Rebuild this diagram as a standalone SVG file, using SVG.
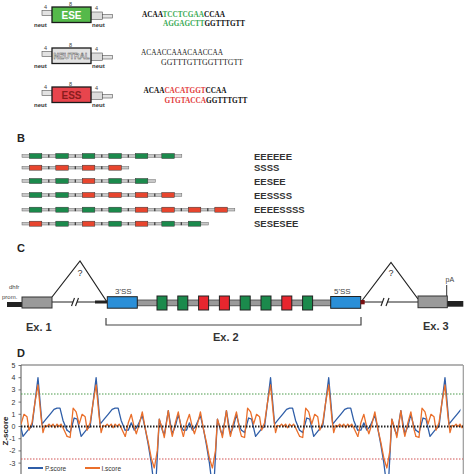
<svg xmlns="http://www.w3.org/2000/svg" width="474" height="474" viewBox="0 0 474 474">
<style>
text{font-family:"Liberation Sans",Arial,sans-serif}
.seq{font-family:"Liberation Serif","Times New Roman",serif;font-weight:bold;font-size:7.4px;fill:#111}
.seqn{font-family:"Liberation Serif","Times New Roman",serif;font-size:7.4px;fill:#222}
.gt{fill:#3aaa55}
.rt{fill:#e23b3b}
.num{font-size:5.5px;fill:#444;text-anchor:middle}
.neut{font-size:6px;font-weight:bold;fill:#333}
.lbl{font-size:11px;font-weight:bold;fill:#222}
.blab{font-size:9.5px;font-weight:bold;fill:#333}
.bar{fill:#e3e3e3;stroke:#555;stroke-width:.6}
.side{fill:#dcdcdc;stroke:#555;stroke-width:.6}
.bb{fill:#c8c8c8;stroke:#666;stroke-width:.5}
.bg{fill:#1b8a4c;stroke:#333;stroke-width:.5}
.br{fill:#e8452e;stroke:#333;stroke-width:.5}
.jn{fill:#333}
.cg{fill:#1b8a4c;stroke:#222;stroke-width:1}
.cr{fill:#e8262e;stroke:#222;stroke-width:1}
.ex{font-size:11px;font-weight:bold;fill:#333}
.ss{font-size:8px;fill:#444}
.tick{font-size:7px;fill:#333;text-anchor:end}
.pl{fill:none;stroke:#2f5ea8;stroke-width:1.3;stroke-linejoin:round;stroke-linecap:round}
.ol{fill:none;stroke:#ea6f2b;stroke-width:1.3;stroke-linejoin:round;stroke-linecap:round}
.ln{fill:none;stroke:#222;stroke-width:1.2}
</style>
<defs>
<polyline id="bE" class="pl" points="-29,3.7 -26,6.1 -22,-8.5 -19,-7.3 -15,9.8 -9,2.4 -6,0 -3,-24.4 0,-48.8 4,-2.4 8,-7.3 12,-12.2 16,-17.1 19,-18.3 22,-18.3 25,-6.1 29,3.7"/>
<polyline id="bS" class="pl" points="-29,3.7 -26,3.7 -23,-3.7 -20,3.7 -17,0 -12,-11 -9,2.4 -6,18.3 -3,36.6 0,61 2,48.8 5,-7.3 8,3.7 10,8.5 14,-15.9 16,-3.7 18,7.3 21,0 24,-12.2 27,0 29,3.7"/>
<polyline id="oE" class="ol" points="-29,9.8 -26,11 -23,-18.3 -20,-14.6 -17,-2.4 -14,-12.2 -11,-9.8 -9,3.7 -6,-3.7 -3,-24.4 0,-41.5 3,-9.8 5,6.1 7,-1.2 9,0 11,-2.4 13,0 15,-2.4 17,1.2 19,-2.4 21,0 23,-2.4 25,1.2 29,9.8"/>
<polyline id="oS" class="ol" points="-29,9.8 -26,-3.7 -23,-12.2 -20,1.2 -18,7.3 -15,-2.4 -12,-14.6 -9,2.4 -6,15.9 -3,31.7 0,41.5 3,24.4 5,-7.3 8,2.4 10,11 14,-15.9 16,0 18,9.8 21,-3.7 24,-14.6 27,2.4 29,9.8"/>
<clipPath id="cb"><rect x="21" y="365" width="439.5" height="110"/></clipPath>
<clipPath id="co"><rect x="21" y="365" width="442" height="110"/></clipPath>
</defs>

<!-- Panel A -->
<g id="ese">
<rect class="bar" x="42" y="10.5" width="10" height="5"/>
<rect class="side" x="91" y="12" width="11.5" height="7.5"/>
<rect class="bar" x="102.5" y="14.5" width="10" height="3.5"/>
<rect x="52" y="7" width="39" height="15.5" fill="#55b94a" stroke="#1a1a1a" stroke-width="1.3"/>
<text x="71.5" y="18.8" font-size="10" font-weight="bold" fill="#fff" text-anchor="middle">ESE</text>
<text class="num" x="45.5" y="8.8">4</text>
<text class="num" x="70.5" y="5.8">8</text>
<text class="num" x="96.5" y="9.5">4</text>
<text class="neut" x="34" y="26.5">neut</text>
<text class="neut" x="92" y="26.5">neut</text>
</g>
<g id="neutral" transform="translate(0,41)">
<rect class="bar" x="42" y="10.5" width="10" height="5"/>
<rect class="side" x="91" y="12" width="11.5" height="7.5"/>
<rect class="bar" x="102.5" y="14.5" width="10" height="3.5"/>
<rect x="52" y="7" width="39" height="15.5" fill="#e2e2e2" stroke="#1a1a1a" stroke-width="1.3"/>
<text x="71.5" y="18.3" font-size="8.5" font-weight="bold" fill="#f4f4f4" stroke="#555" stroke-width=".45" text-anchor="middle" textLength="36" lengthAdjust="spacingAndGlyphs">NEUTRAL</text>
<text class="num" x="45.5" y="8.8">4</text>
<text class="num" x="70.5" y="5.8">8</text>
<text class="num" x="96.5" y="9.5">4</text>
<text class="neut" x="34" y="26.5">neut</text>
<text class="neut" x="92" y="26.5">neut</text>
</g>
<g id="ess" transform="translate(0,80)">
<rect class="bar" x="42" y="10.5" width="10" height="5"/>
<rect class="side" x="91" y="12" width="11.5" height="7.5"/>
<rect class="bar" x="102.5" y="14.5" width="10" height="3.5"/>
<rect x="52" y="7" width="39" height="15.5" fill="#e8454d" stroke="#1a1a1a" stroke-width="1.3"/>
<text x="71.5" y="18.8" font-size="10" font-weight="bold" fill="#8a1c1c" text-anchor="middle">ESS</text>
<text class="num" x="45.5" y="8.8">4</text>
<text class="num" x="70.5" y="5.8">8</text>
<text class="num" x="96.5" y="9.5">4</text>
<text class="neut" x="34" y="26.5">neut</text>
<text class="neut" x="92" y="26.5">neut</text>
</g>
<g id="sequences">
<text class="seq" x="142" y="16.5" textLength="83" lengthAdjust="spacingAndGlyphs">ACAA<tspan class="gt">TCCTCGAA</tspan>CCAA</text>
<text class="seq" x="163" y="26" textLength="82" lengthAdjust="spacingAndGlyphs"><tspan class="gt">AGGAGCTT</tspan>GGTTTGTT</text>
<text class="seqn" x="141" y="55" textLength="82" lengthAdjust="spacingAndGlyphs">ACAACCAAACAACCAA</text>
<text class="seqn" x="161" y="65" textLength="82" lengthAdjust="spacingAndGlyphs">GGTTTGTTGGTTTGTT</text>
<text class="seq" x="143.5" y="93.3" textLength="83" lengthAdjust="spacingAndGlyphs">ACAA<tspan class="rt">CACATGGT</tspan>CCAA</text>
<text class="seq" x="164.5" y="102.7" textLength="83" lengthAdjust="spacingAndGlyphs"><tspan class="rt">GTGTACCA</tspan>GGTTTGTT</text>
</g>

<!-- Panel B -->
<text class="lbl" x="17" y="141.5">B</text>
<g id="row-eeeeee" transform="translate(0,156)">
<rect class="bb" x="22" y="-1.3" width="159.8" height="2.6"/>
<rect class="bg" x="29.3" y="-2.5" width="12.5" height="5"/><rect class="bg" x="55.8" y="-2.5" width="12.5" height="5"/><rect class="bg" x="82.3" y="-2.5" width="12.5" height="5"/><rect class="bg" x="108.8" y="-2.5" width="12.5" height="5"/><rect class="bg" x="135.3" y="-2.5" width="12.5" height="5"/><rect class="bg" x="161.8" y="-2.5" width="12.5" height="5"/>
<rect class="jn" x="48.2" y="-1.5" width="1.2" height="3"/><rect class="jn" x="74.7" y="-1.5" width="1.2" height="3"/><rect class="jn" x="101.2" y="-1.5" width="1.2" height="3"/><rect class="jn" x="127.7" y="-1.5" width="1.2" height="3"/><rect class="jn" x="154.2" y="-1.5" width="1.2" height="3"/>
<text class="blab" x="254" y="3.5">EEEEEE</text>
</g>
<g id="row-ssss" transform="translate(0,167.7)">
<rect class="bb" x="22" y="-1.3" width="106.8" height="2.6"/>
<rect class="br" x="29.3" y="-2.5" width="12.5" height="5"/><rect class="br" x="55.8" y="-2.5" width="12.5" height="5"/><rect class="br" x="82.3" y="-2.5" width="12.5" height="5"/><rect class="br" x="108.8" y="-2.5" width="12.5" height="5"/>
<rect class="jn" x="48.2" y="-1.5" width="1.2" height="3"/><rect class="jn" x="74.7" y="-1.5" width="1.2" height="3"/><rect class="jn" x="101.2" y="-1.5" width="1.2" height="3"/>
<text class="blab" x="254" y="3.5">SSSS</text>
</g>
<g id="row-eesee" transform="translate(0,181)">
<rect class="bb" x="22" y="-1.3" width="133.3" height="2.6"/>
<rect class="bg" x="29.3" y="-2.5" width="12.5" height="5"/><rect class="bg" x="55.8" y="-2.5" width="12.5" height="5"/><rect class="br" x="82.3" y="-2.5" width="12.5" height="5"/><rect class="bg" x="108.8" y="-2.5" width="12.5" height="5"/><rect class="bg" x="135.3" y="-2.5" width="12.5" height="5"/>
<rect class="jn" x="48.2" y="-1.5" width="1.2" height="3"/><rect class="jn" x="74.7" y="-1.5" width="1.2" height="3"/><rect class="jn" x="101.2" y="-1.5" width="1.2" height="3"/><rect class="jn" x="127.7" y="-1.5" width="1.2" height="3"/>
<text class="blab" x="254" y="3.5">EESEE</text>
</g>
<g id="row-eessss" transform="translate(0,195)">
<rect class="bb" x="22" y="-1.3" width="159.8" height="2.6"/>
<rect class="bg" x="29.3" y="-2.5" width="12.5" height="5"/><rect class="bg" x="55.8" y="-2.5" width="12.5" height="5"/><rect class="br" x="82.3" y="-2.5" width="12.5" height="5"/><rect class="br" x="108.8" y="-2.5" width="12.5" height="5"/><rect class="br" x="135.3" y="-2.5" width="12.5" height="5"/><rect class="br" x="161.8" y="-2.5" width="12.5" height="5"/>
<rect class="jn" x="48.2" y="-1.5" width="1.2" height="3"/><rect class="jn" x="74.7" y="-1.5" width="1.2" height="3"/><rect class="jn" x="101.2" y="-1.5" width="1.2" height="3"/><rect class="jn" x="127.7" y="-1.5" width="1.2" height="3"/><rect class="jn" x="154.2" y="-1.5" width="1.2" height="3"/>
<text class="blab" x="254" y="3.5">EESSSS</text>
</g>
<g id="row-eeeessss" transform="translate(0,209.7)">
<rect class="bb" x="22" y="-1.3" width="212.8" height="2.6"/>
<rect class="bg" x="29.3" y="-2.5" width="12.5" height="5"/><rect class="bg" x="55.8" y="-2.5" width="12.5" height="5"/><rect class="bg" x="82.3" y="-2.5" width="12.5" height="5"/><rect class="bg" x="108.8" y="-2.5" width="12.5" height="5"/><rect class="br" x="135.3" y="-2.5" width="12.5" height="5"/><rect class="br" x="161.8" y="-2.5" width="12.5" height="5"/><rect class="br" x="188.3" y="-2.5" width="12.5" height="5"/><rect class="br" x="214.8" y="-2.5" width="12.5" height="5"/>
<rect class="jn" x="48.2" y="-1.5" width="1.2" height="3"/><rect class="jn" x="74.7" y="-1.5" width="1.2" height="3"/><rect class="jn" x="101.2" y="-1.5" width="1.2" height="3"/><rect class="jn" x="127.7" y="-1.5" width="1.2" height="3"/><rect class="jn" x="154.2" y="-1.5" width="1.2" height="3"/><rect class="jn" x="180.7" y="-1.5" width="1.2" height="3"/><rect class="jn" x="207.2" y="-1.5" width="1.2" height="3"/>
<text class="blab" x="254" y="3.5">EEEESSSS</text>
</g>
<g id="row-sesesee" transform="translate(0,223.7)">
<rect class="bb" x="22" y="-1.3" width="186.3" height="2.6"/>
<rect class="br" x="29.3" y="-2.5" width="12.5" height="5"/><rect class="bg" x="55.8" y="-2.5" width="12.5" height="5"/><rect class="br" x="82.3" y="-2.5" width="12.5" height="5"/><rect class="bg" x="108.8" y="-2.5" width="12.5" height="5"/><rect class="br" x="135.3" y="-2.5" width="12.5" height="5"/><rect class="bg" x="161.8" y="-2.5" width="12.5" height="5"/><rect class="bg" x="188.3" y="-2.5" width="12.5" height="5"/>
<rect class="jn" x="48.2" y="-1.5" width="1.2" height="3"/><rect class="jn" x="74.7" y="-1.5" width="1.2" height="3"/><rect class="jn" x="101.2" y="-1.5" width="1.2" height="3"/><rect class="jn" x="127.7" y="-1.5" width="1.2" height="3"/><rect class="jn" x="154.2" y="-1.5" width="1.2" height="3"/><rect class="jn" x="180.7" y="-1.5" width="1.2" height="3"/>
<text class="blab" x="254" y="3.5">SESESEE</text>
</g>

<!-- Panel C -->
<text class="lbl" x="17" y="252">C</text>
<g id="connectors">
<line class="ln" x1="52" y1="302" x2="107" y2="302"/>
<rect x="73" y="299" width="4" height="6" fill="#fff"/>
<line class="ln" x1="71.5" y1="306" x2="74.5" y2="298"/>
<line class="ln" x1="75.5" y1="306" x2="78.5" y2="298"/>
<rect x="95" y="300.5" width="12" height="3" fill="#222"/>
<polyline class="ln" points="52,297 80,261 107,302"/>
<text x="80" y="276" font-size="9" fill="#333" text-anchor="middle">?</text>
<line class="ln" x1="361" y1="302" x2="418" y2="302"/>
<rect x="383" y="299" width="4" height="6" fill="#fff"/>
<line class="ln" x1="381" y1="306" x2="384" y2="298"/>
<line class="ln" x1="386" y1="306" x2="389" y2="298"/>
<polyline class="ln" points="361,302 391,262.5 418,299"/>
<text x="391" y="276" font-size="9" fill="#333" text-anchor="middle">?</text>
</g>
<g id="exon1">
<text x="9" y="289" font-size="6" fill="#444">dhfr</text>
<text x="2" y="298.5" font-size="6" fill="#444">prom.</text>
<rect x="7" y="302" width="15" height="5" fill="#222"/>
<rect x="22" y="297" width="30" height="11" fill="#9a9a9a" stroke="#333" stroke-width="1"/>
<text class="ex" x="26" y="330.5">Ex. 1</text>
</g>
<g id="exon2">
<rect x="137" y="300" width="194" height="5.8" fill="#9a9a9a" stroke="#444" stroke-width=".8"/>
<rect x="107.3" y="296.7" width="30" height="11.5" fill="#2a8fd8" stroke="#222" stroke-width="1"/>
<text class="ss" x="115" y="294">3'SS</text>
<rect class="cg" x="157" y="296" width="10" height="14"/>
<rect class="cg" x="177.8" y="296" width="10" height="14"/>
<rect class="cr" x="198.6" y="296" width="10" height="14"/>
<rect class="cr" x="219.4" y="296" width="10" height="14"/>
<rect class="cg" x="240.2" y="296" width="10" height="14"/>
<rect class="cg" x="261" y="296" width="10" height="14"/>
<rect class="cr" x="281.8" y="296" width="10" height="14"/>
<rect class="cg" x="302.6" y="296" width="10" height="14"/>
<rect x="330.7" y="296.5" width="30" height="11.8" fill="#2a8fd8" stroke="#222" stroke-width="1"/>
<rect x="360.7" y="300" width="4" height="4.3" fill="#7a1010"/>
<text class="ss" x="334" y="294">5'SS</text>
<polyline fill="none" stroke="#444" stroke-width="1.2" points="106,318 106,325 361,325 361,317"/>
<text class="ex" x="213" y="341">Ex. 2</text>
</g>
<g id="exon3">
<rect x="418" y="296" width="29.3" height="11.7" fill="#9a9a9a" stroke="#333" stroke-width="1"/>
<rect x="447.3" y="301" width="16" height="5.7" fill="#222"/>
<line x1="446.7" y1="285" x2="446.7" y2="296" stroke="#333" stroke-width="1"/>
<text x="445.5" y="281.5" font-size="7" fill="#444">pA</text>
<text class="ex" x="423" y="330">Ex. 3</text>
</g>

<!-- Panel D -->
<text class="lbl" x="17" y="357">D</text>
<g id="chart">
<line x1="21" y1="365" x2="463" y2="365" stroke="#9a9a9a" stroke-width="1.5"/>
<line x1="463.3" y1="365" x2="463.3" y2="474" stroke="#9a9a9a" stroke-width="1.2"/>
<line x1="21" y1="365" x2="21" y2="474" stroke="#555" stroke-width="1"/>
<path d="M18.5 365.5H21M18.5 377.7H21M18.5 389.9H21M18.5 402.1H21M18.5 414.3H21M18.5 426.5H21M18.5 438.7H21M18.5 450.9H21M18.5 463.1H21" stroke="#555" stroke-width=".8"/>
<text class="tick" x="15.5" y="368">5</text>
<text class="tick" x="15.5" y="380.2">4</text>
<text class="tick" x="15.5" y="392.4">3</text>
<text class="tick" x="15.5" y="404.6">2</text>
<text class="tick" x="15.5" y="416.8">1</text>
<text class="tick" x="15.5" y="429">0</text>
<text class="tick" x="15.5" y="441.2">-1</text>
<text class="tick" x="15.5" y="453.4">-2</text>
<text class="tick" x="15.5" y="465.6">-3</text>
<text transform="translate(8,431) rotate(-90)" text-anchor="middle" font-size="8" font-weight="bold" fill="#222">Z-score</text>
<line x1="21" y1="394" x2="463" y2="394" stroke="#4a9a4a" stroke-width="1" stroke-dasharray="1.5 1.5"/>
<line x1="21" y1="459" x2="463" y2="459" stroke="#d05050" stroke-width="1" stroke-dasharray="1.5 1.5"/>
<g clip-path="url(#cb)">
<use href="#bE" transform="translate(38,426.5)"/>
<use href="#bE" transform="translate(96.14,426.5)"/>
<use href="#bS" transform="translate(154.29,426.5)"/>
<use href="#bS" transform="translate(212.43,426.5)"/>
<use href="#bE" transform="translate(270.57,426.5)"/>
<use href="#bE" transform="translate(328.71,426.5)"/>
<use href="#bS" transform="translate(386.86,426.5)"/>
<use href="#bE" transform="translate(445,426.5)"/>
</g>
<g clip-path="url(#co)">
<use href="#oE" transform="translate(38,426.5)"/>
<use href="#oE" transform="translate(96.14,426.5)"/>
<use href="#oS" transform="translate(154.29,426.5)"/>
<use href="#oS" transform="translate(212.43,426.5)"/>
<use href="#oE" transform="translate(270.57,426.5)"/>
<use href="#oE" transform="translate(328.71,426.5)"/>
<use href="#oS" transform="translate(386.86,426.5)"/>
<use href="#oE" transform="translate(445,426.5)"/>
</g>
<line x1="21" y1="426.5" x2="463" y2="426.5" stroke="#222" stroke-width="2" stroke-dasharray="1.5 1.5"/>
<line x1="28" y1="468" x2="43" y2="468" stroke="#2f5ea8" stroke-width="2"/>
<text x="45" y="470.5" font-size="6.5" fill="#333">P.score</text>
<line x1="85" y1="468" x2="100" y2="468" stroke="#ea6f2b" stroke-width="2"/>
<text x="101.5" y="470.5" font-size="6.5" fill="#333">I.score</text>
</g>
</svg>
